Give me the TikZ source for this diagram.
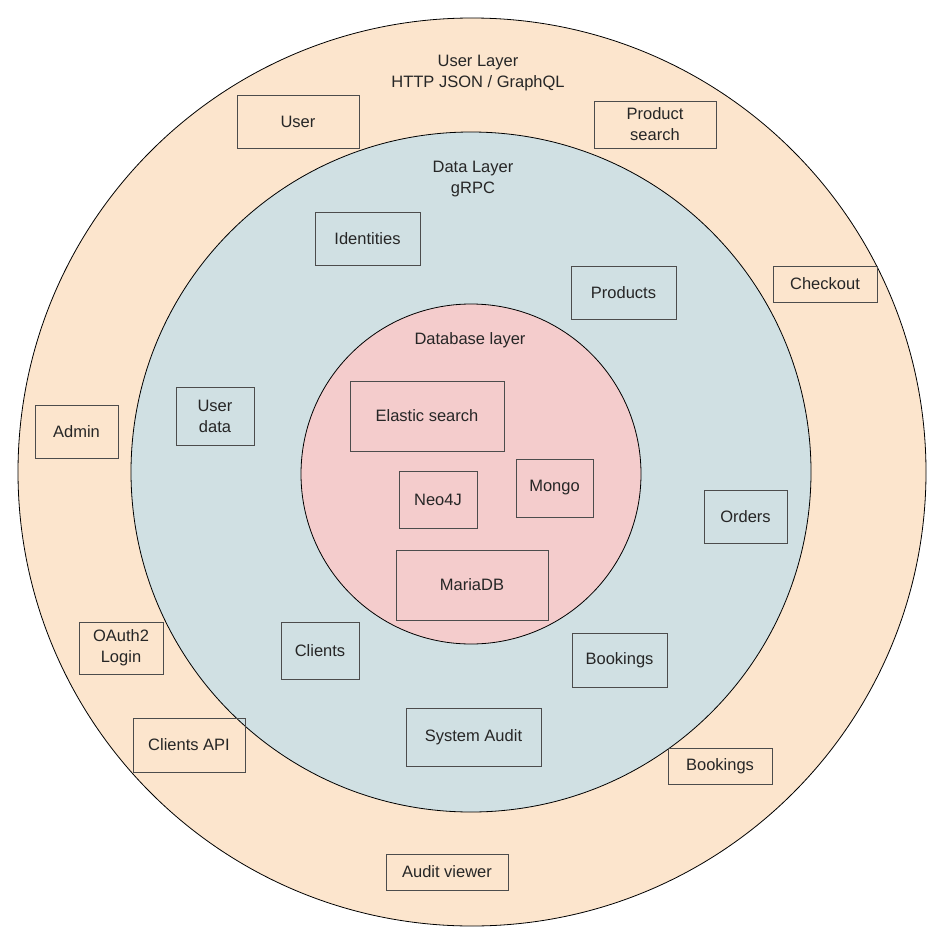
\documentclass[tikz,border=0pt]{standalone}
\usepackage{fontspec}
\setmainfont{Liberation Sans}
\begin{document}
\begin{tikzpicture}[x=1pt,y=-1pt,
  every node/.style={font=\fontsize{16.5}{21}\selectfont,align=center,text=black!85},
  box/.style={draw=black!70,line width=0.8pt,rectangle,inner sep=0pt},
  ring/.style={draw=black,line width=0.8pt}]
\useasboundingbox (0,0) rectangle (944,944);
\definecolor{outerc}{HTML}{FCE5CD}
\definecolor{midc}{HTML}{D0E0E3}
\definecolor{innc}{HTML}{F4CCCC}
\fill[outerc,ring] (472,472) circle (454);
\fill[midc,ring] (471,472) circle (340);
\fill[innc,ring] (471,474) circle (170);
\newcommand{\bx}[6]{\node[box,minimum width=#4-#2,minimum height=#5-#3] (#1) at ({(#2+#4)/2},{(#3+#5)/2}) {#6};}
\node (ul) at (478,73) {User Layer\\HTTP JSON / GraphQL};
\node (dl) at (473,179) {Data Layer\\gRPC};
\node (dbl) at (470,340) {Database layer};
\bx{user}{237}{95}{359}{148}{User}
\bx{psearch}{594}{101}{716}{148}{Product\\search}
\bx{checkout}{773}{266}{877}{302}{Checkout}
\bx{admin}{35}{405}{118}{458}{Admin}
\bx{oauth}{79}{622}{163}{674}{OAuth2\\Login}
\bx{capi}{133}{718}{245}{772}{Clients API}
\bx{obook}{668}{748}{772}{784}{Bookings}
\bx{audit}{386}{854}{508}{890}{Audit viewer}
\bx{ident}{315}{212}{420}{265}{Identities}
\bx{prod}{571}{266}{676}{319}{Products}
\bx{udata}{176}{387}{254}{445}{User\\data}
\bx{orders}{704}{490}{787}{543}{Orders}
\bx{clients}{281}{622}{359}{679}{Clients}
\bx{book}{572}{633}{667}{687}{Bookings}
\bx{saudit}{406}{708}{541}{766}{System Audit}
\bx{elastic}{350}{381}{504}{451}{Elastic search}
\bx{neo}{399}{471}{477}{528}{Neo4J}
\bx{mongo}{516}{459}{593}{517}{Mongo}
\bx{maria}{396}{550}{548}{620}{MariaDB}
\end{tikzpicture}
\end{document}
